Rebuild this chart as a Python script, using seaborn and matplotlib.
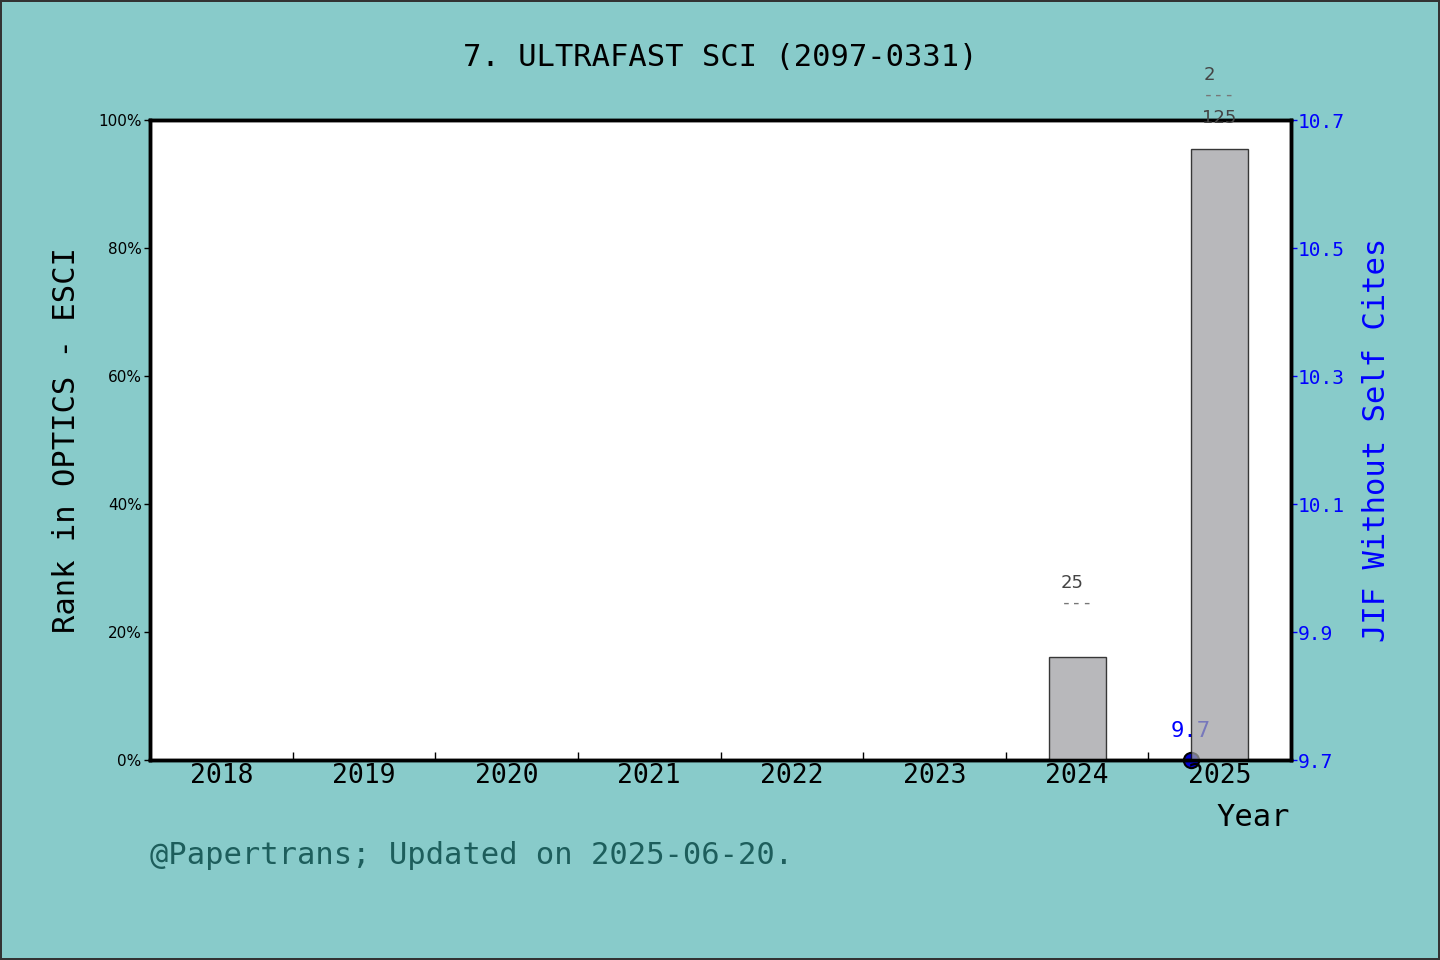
import numpy as np
import pandas as pd
import matplotlib
matplotlib.use('Agg')
import matplotlib.pyplot as plt
import seaborn as sns

years = ['2018', '2019', '2020', '2021', '2022', '2023', '2024', '2025']
rank_pct = [np.nan, np.nan, np.nan, np.nan, np.nan, np.nan, 16.1, 95.5]
rank_num = ['', '', '', '', '', '', '25', '2']
rank_den = ['', '', '', '', '', '', '', '125']
jif_years = ['2025']
jif_vals = [9.7]
jif_ticks = [9.7, 9.9, 10.1, 10.3, 10.5, 10.7]

bg = '#88cbca'
mono = 'DejaVu Sans Mono'

sns.set_style('white')
plt.rcParams['font.family'] = ['DejaVu Sans']
plt.rcParams['text.color'] = 'black'
plt.rcParams['xtick.color'] = 'black'
plt.rcParams['ytick.color'] = 'black'
plt.rcParams['axes.labelcolor'] = 'black'

df = pd.DataFrame({'Year': years, 'Rank': rank_pct})

fig = plt.figure(figsize=(14.4, 9.6), dpi=100, facecolor=bg,
                 edgecolor='#333333', linewidth=1.5)
ax = fig.add_axes([150 / 1440, 1 - 760 / 960, 1141 / 1440, 640 / 960])
ax2 = ax.twinx()

# JIF point sits on the back axes so the bars overlap it
ax2.set_zorder(0)
ax.set_zorder(1)
ax.patch.set_visible(False)
ax2.patch.set_visible(True)
ax2.patch.set_facecolor('white')

for yr, v in zip(jif_years, jif_vals):
    xi = years.index(yr) - 0.2
    ax2.plot([xi], [v], marker='o', ms=11, color='#0000cc', mec='black',
             mew=1.5, clip_on=False)
    ax2.text(xi, v + 0.03, f'{v:.1f}', color='blue', fontsize=16,
             family=mono, ha='center', va='bottom')
ax2.set_ylim(9.7, 10.7)
ax2.set_yticks(jif_ticks)
ax2.set_yticklabels([f'{t:.1f}' for t in jif_ticks], family=mono, fontsize=14,
                    color='blue')
ax2.tick_params(axis='y', colors='blue', direction='out', length=4, width=1,
                pad=1, labelcolor='blue')
ax2.set_ylabel('JIF Without Self Cites', color='blue', family=mono,
               fontsize=22, labelpad=12)

sns.barplot(data=df, x='Year', y='Rank', order=years, color='#a0a1a4',
            alpha=0.75, width=0.4, edgecolor='black', linewidth=1,
            saturation=1, ax=ax)

for i, (v, n, d) in enumerate(zip(rank_pct, rank_num, rank_den)):
    if np.isnan(v):
        continue
    ax.annotate(n, (i, v), xytext=(-11.5, 53), textcoords='offset points',
                fontsize=13, color='#444444', ha='left', va='center',
                annotation_clip=False)
    ax.annotate('---', (i, v), xytext=(0, 39), textcoords='offset points',
                fontsize=13, family=mono, color='#777777', ha='center',
                va='center', annotation_clip=False)
    if d:
        ax.annotate(d, (i, v), xytext=(0, 22), textcoords='offset points',
                    fontsize=13, color='#444444', ha='center', va='center',
                    annotation_clip=False)

ax.set_xlim(-0.5, 7.5)
ax.set_ylim(0, 100)
ax.set_yticks([0, 20, 40, 60, 80, 100])
ax.set_yticklabels([f'{t}%' for t in [0, 20, 40, 60, 80, 100]], fontsize=11)
ax.tick_params(axis='y', direction='out', length=4, width=1, pad=2, left=True,
               colors='black')
ax.set_xticks(range(len(years)))
ax.set_xticklabels(years, family=mono, fontsize=19)
ax.tick_params(axis='x', which='major', length=0, pad=2, labelcolor='black')
ax.set_xticks(np.arange(0.5, len(years) - 1, 1), minor=True)
ax.tick_params(axis='x', which='minor', direction='in', length=6, width=1,
               bottom=True, color='black')
ax.set_xlabel('')
ax.set_ylabel('Rank in OPTICS - ESCI', family=mono, fontsize=22, labelpad=12,
              color='black')

for a in (ax, ax2):
    for s in a.spines.values():
        s.set_linewidth(2.5)
        s.set_color('black')

fig.text(0.5, 0.94, '7. ULTRAFAST SCI (2097-0331)', family=mono, fontsize=22,
         ha='center', va='center', color='black')
fig.text(1290 / 1440, 1 - 817 / 960, 'Year', family=mono, fontsize=22,
         ha='right', va='center', color='black')
fig.text(150 / 1440, 1 - 855 / 960, '@Papertrans; Updated on 2025-06-20.',
         family=mono, fontsize=22, ha='left', va='center', color='#1d5e5c')

fig.savefig('out.png', dpi=100, facecolor=bg, edgecolor='#333333')
